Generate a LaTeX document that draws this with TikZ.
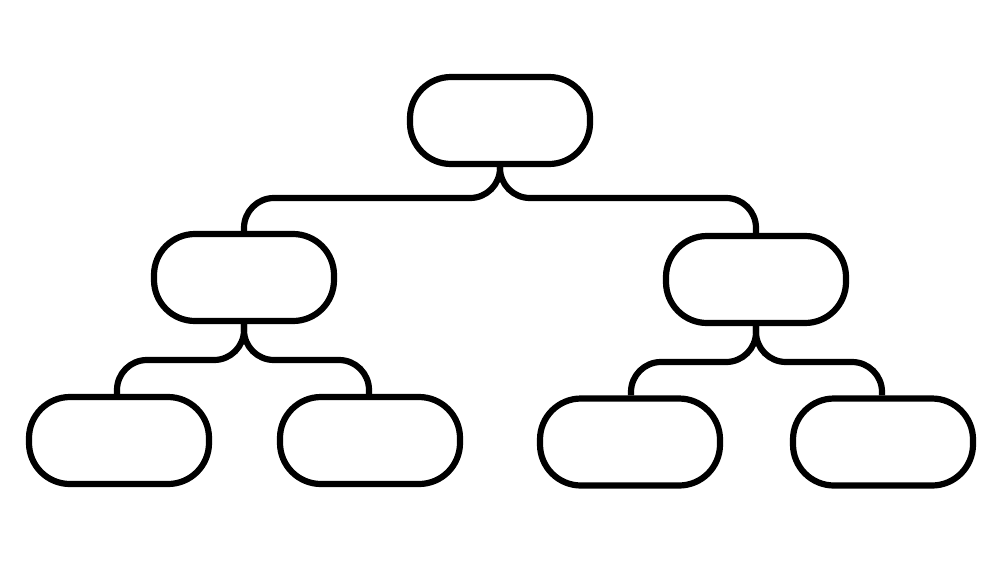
\documentclass[tikz,border=0pt]{standalone}
\begin{document}
\begin{tikzpicture}[x=1pt,y=-1pt,
  box/.style={draw=black,line width=6.2pt,rounded corners=41pt,minimum width=180pt,minimum height=87pt,inner sep=0pt,fill=white},
  conn/.style={draw=black,line width=6.2pt,rounded corners=30pt}]
\useasboundingbox[fill=white] (0,0) rectangle (1000,563);
\node[box] (top) at (500,120.5) {};
\node[box] (ml) at (244,277.5) {};
\node[box] (mr) at (756,279.5) {};
\node[box] (b1) at (119,440.5) {};
\node[box] (b2) at (370,440.5) {};
\node[box] (b3) at (630,442) {};
\node[box] (b4) at (883,442) {};
\coordinate (j0) at (500,198);
\coordinate (jl) at (244,360);
\coordinate (jr) at (756,362);
\draw[conn] (top.south) -- (j0) -| (ml.north);
\draw[conn] (top.south) -- (j0) -| (mr.north);
\draw[conn] (ml.south) -- (jl) -| ([xshift=-2pt]b1.north);
\draw[conn] (ml.south) -- (jl) -| ([xshift=-1pt]b2.north);
\draw[conn] (mr.south) -- (jr) -| ([xshift=1pt]b3.north);
\draw[conn] (mr.south) -- (jr) -| ([xshift=-1pt]b4.north);
\end{tikzpicture}
\end{document}
